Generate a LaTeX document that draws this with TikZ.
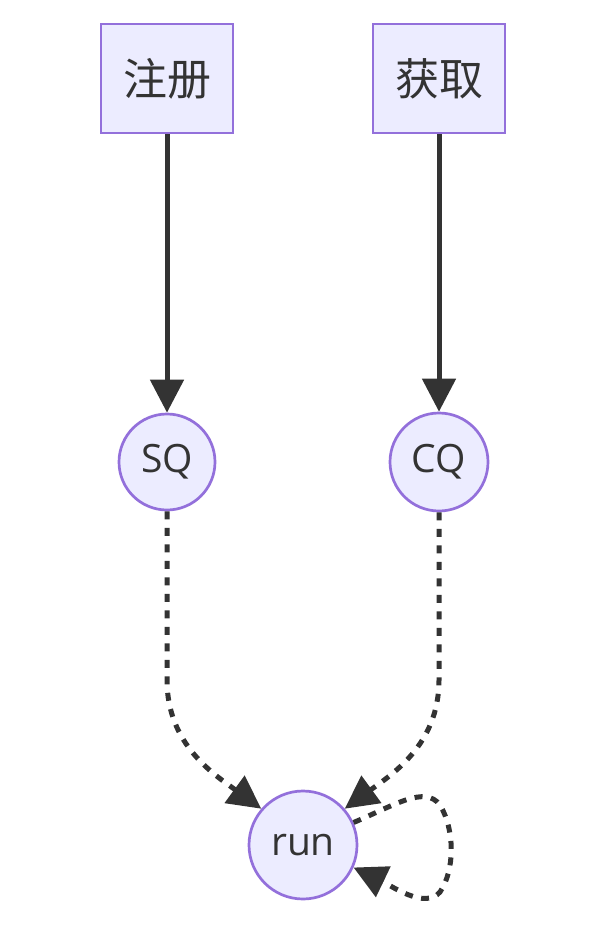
\documentclass[tikz,border=0pt]{standalone}
\usepackage{fontspec}
\setmainfont{Open Sans}
\newfontfamily\cjk{Noto Sans CJK SC}
\usetikzlibrary{arrows.meta}
\definecolor{nodefill}{HTML}{ECECFF}
\definecolor{nodeborder}{HTML}{9370DB}
\definecolor{edgecol}{HTML}{333333}
\definecolor{txtcol}{HTML}{333333}
\tikzset{
  boxnode/.style={draw=nodeborder, fill=nodefill, line width=2.7pt, minimum width=132pt, minimum height=109pt, inner sep=0pt, text=txtcol, font=\cjk\fontsize{44}{50}\selectfont},
  circnode/.style={draw=nodeborder, fill=nodefill, line width=2.7pt, circle, inner sep=0pt, text=txtcol, font=\fontsize{39}{46}\selectfont},
  solidedge/.style={draw=edgecol, line width=5pt, -{Triangle[length=33pt,width=33pt,fill=edgecol]}},
  dashedge/.style={draw=edgecol, line width=5pt, dash pattern=on 8pt off 8.5pt, -{Triangle[length=33pt,width=33pt,fill=edgecol]}},
}
\begin{document}
\begin{tikzpicture}[x=1pt,y=-1pt]
\useasboundingbox (0,0) rectangle (589,926);
\node[boxnode] (reg) at (167,78.5) {注册};
\node[boxnode] (get) at (439,78.5) {获取};
\node[circnode, minimum size=96pt] (sq) at (167,462) {SQ};
\node[circnode, minimum size=98pt] (cq) at (439,462) {CQ};
\node[circnode, minimum size=108pt] (run) at (303,845) {run};
\coordinate (sqbend) at (167,680);
\coordinate (cqbend) at (439,680);
\draw[solidedge] (reg.south) -- (sq.north);
\draw[solidedge] (get.south) -- (cq.north);
\draw[dashedge] (sq.south) -- (sqbend) .. controls (167,745) and (215,775) .. (run.139);
\draw[dashedge] (cq.south) -- (cqbend) .. controls (439,745) and (391,775) .. (run.41);
\draw[dashedge] (run.24) .. controls (395,805) and (425,785) .. (440,805) .. controls (455,830) and (455,870) .. (440,892) .. controls (425,910) and (390,885) .. (run.-24);
\end{tikzpicture}
\end{document}
